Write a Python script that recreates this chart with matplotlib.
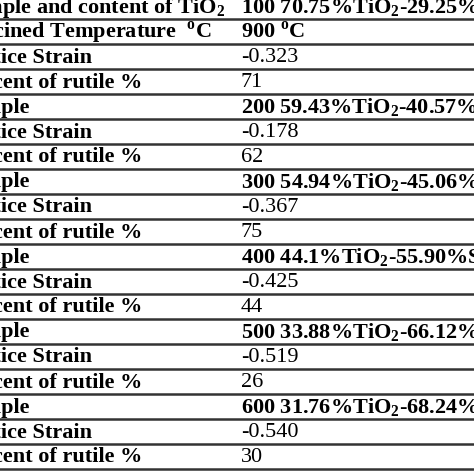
import matplotlib
matplotlib.use('Agg')
import matplotlib.pyplot as plt

plt.rcParams['font.family'] = 'Liberation Serif'
plt.rcParams['mathtext.fontset'] = 'custom'
plt.rcParams['mathtext.rm'] = 'Liberation Serif'
plt.rcParams['mathtext.bf'] = 'Liberation Serif:bold'

samples = ['100', '200', '300', '400', '500', '600']
tio2 = ['70.75', '59.43', '54.94', '44.1', '33.88', '31.76']
sio2 = ['29.25', '40.57', '45.06', '55.90', '66.12', '68.24']
strain = ['-0.323', '-0.178', '-0.367', '-0.425', '-0.519', '-0.540']
rutile = ['71', '62', '75', '44', '26', '30']

rows = []
for i in range(len(samples)):
    head = samples[i] + ' ' + tio2[i] + '%TiO$_\\mathbf{2}$-' + sio2[i] + '%SiO$_\\mathbf{2}$'
    if i == 0:
        rows.append(('Sample and content of TiO$_\\mathbf{2}$', head, True))
        rows.append(('Calcined Temperature  $^\\mathbf{o}$C', '900 $^\\mathbf{o}$C', True))
    else:
        rows.append(('Sample', head, True))
    rows.append(('Lattice Strain', strain[i], False))
    rows.append(('Percent of rutile %', rutile[i], False))

fig = plt.figure(figsize=(4.74, 4.74), dpi=100)
ax = fig.add_axes([0, 0, 1, 1])
ax.set_xlim(0, 474)
ax.set_ylim(474, 0)
ax.axis('off')

top = -6
h = 25
for k, (lab, val, bold) in enumerate(rows):
    yc = top + h * k + h / 2 + 1
    ax.text(-40, yc, lab, fontsize=16, fontweight='bold', va='center', ha='left')
    ax.text(241, yc, val, fontsize=16, fontweight='bold' if bold else 'normal',
            va='center', ha='left')
    ax.plot([0, 474], [top + h * (k + 1)] * 2, color='#333333', lw=1.8)

fig.savefig('out.png', dpi=100)
